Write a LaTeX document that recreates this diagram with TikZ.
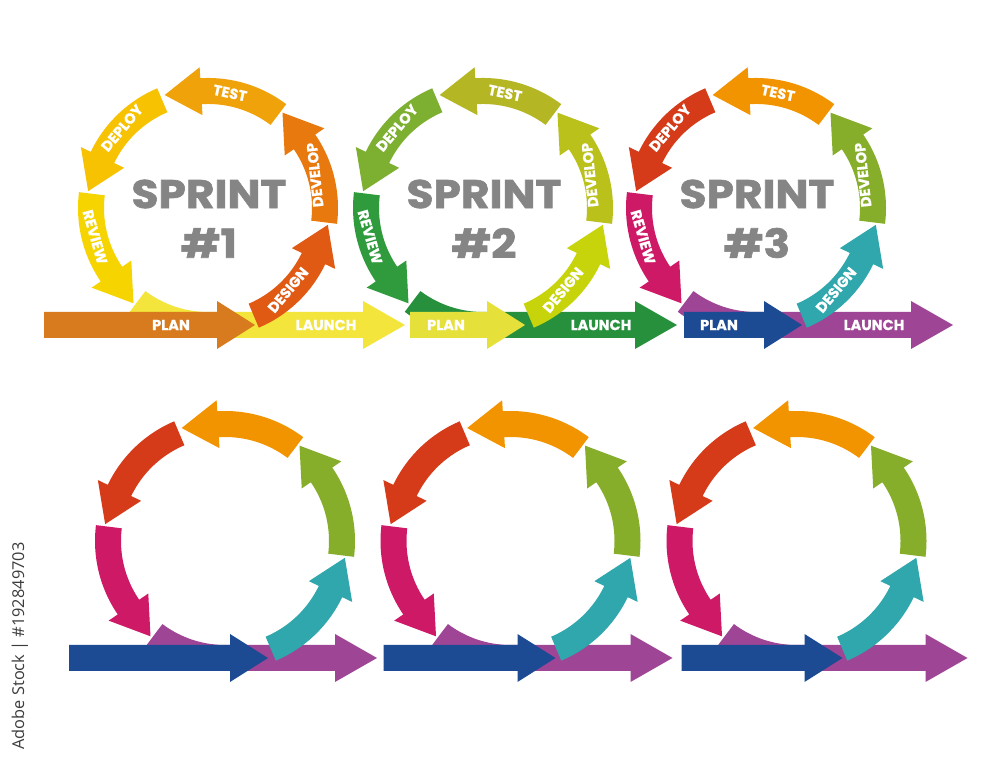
\documentclass[tikz,border=0pt]{standalone}
\usepackage{fontspec}
\newfontfamily\poplbl{Poppins}[BoldFeatures={FakeBold=0.8}]
\newfontfamily\popbig{Poppins}[BoldFeatures={FakeBold=1.5,FakeStretch=1.1}]
\newfontfamily\osans{Open Sans}
\definecolor{sgray}{HTML}{858585}
\definecolor{wmgray}{HTML}{3C3C3C}
\tikzset{
  lbl/.style={text=white, font=\poplbl\bfseries\fontsize{8.3}{9}\selectfont, inner sep=0pt},
  big/.style={text=sgray, font=\popbig\bfseries\fontsize{22.7}{26}\selectfont, inner sep=0pt}
}
% arc arrow on ring (inner r 104, outer r 130), from angle #1 to tip angle #2
\newcommand{\ringarr}[3]{%
  \pgfmathsetmacro\hb{#2-17.6}%
  \fill[#3] plot[domain=#1:\hb,samples=30] ({130*cos(\x)},{130*sin(\x)})
    -- (\hb:141) -- (#2:121) -- (\hb:93)
    -- plot[domain=\hb:#1,samples=30] ({104*cos(\x)},{104*sin(\x)}) -- cycle;}
% launch arrow: bottom arc then straight to tip x = #1
\newcommand{\launcharr}[2]{%
  \pgfmathsetmacro\lb{#1-42}%
  \fill[#2] plot[domain=233:270,samples=20] ({130*cos(\x)},{130*sin(\x)})
    -- (\lb,-130) -- (\lb,-141) -- (#1,-117) -- (\lb,-93) -- (\lb,-104) -- (0,-104)
    -- plot[domain=270:233,samples=20] ({104*cos(\x)},{104*sin(\x)}) -- cycle;}
% plan arrow: straight from tail #1 to tip #2
\newcommand{\planarr}[3]{%
  \pgfmathsetmacro\pb{#2-38}%
  \fill[#3] (#1,-130) -- (\pb,-130) -- (\pb,-141) -- (#2,-117) -- (\pb,-93) -- (\pb,-104) -- (#1,-104) -- cycle;}
\newcommand{\sprintshape}[5]{%
  \begin{scope}[shift={(#1,#2)}]
    \launcharr{#5}{cL}
    \ringarr{173}{232}{cR}
    \ringarr{113}{172}{cDp}
    \ringarr{53}{111}{cT}
    \ringarr{353}{412}{cDv}
    \planarr{#3}{#4}{cP}
    \ringarr{293}{352}{cDs}
  \end{scope}}
\newcommand{\sprintlabels}[4]{%
  \begin{scope}[shift={(#2,#3)}]
    \node[lbl,rotate=-12] (#1test) at (22,115) {TEST};
    \node[lbl,rotate=50] (#1deploy) at (-86,80) {DEPLOY};
    \node[lbl,rotate=-74] (#1review) at (-113,-29) {REVIEW};
    \node[lbl,rotate=96] (#1develop) at (107,33) {DEVELOP};
    \node[lbl,rotate=50] (#1design) at (80,-82) {DESIGN};
    \node[lbl] (#1plan) at (-37,-117) {PLAN};
    \node[lbl] (#1launch) at (118,-117) {LAUNCH};
    \node[big] (#1sprint) at (1,14) {SPRINT};
    \node[big] (#1num) at (1,-35) {#4};
  \end{scope}}
\newcommand{\colsthree}{%
  \definecolor{cP}{HTML}{1C4A93}\definecolor{cDs}{HTML}{2FA7AC}
  \definecolor{cDv}{HTML}{86AE2B}\definecolor{cT}{HTML}{F29400}
  \definecolor{cDp}{HTML}{D53A19}\definecolor{cR}{HTML}{CE1967}
  \definecolor{cL}{HTML}{9E4596}}
\begin{document}
\begin{tikzpicture}[x=0.02cm,y=0.02cm]
\fill[white] (0,0) rectangle (1000,776);
\useasboundingbox (0,0) rectangle (1000,776);
% Sprint 1
\definecolor{cP}{HTML}{D87A1E}\definecolor{cDs}{HTML}{E05A14}
\definecolor{cDv}{HTML}{E8790E}\definecolor{cT}{HTML}{F0A20B}
\definecolor{cDp}{HTML}{F6C202}\definecolor{cR}{HTML}{F6D400}
\definecolor{cL}{HTML}{F3E53C}
\sprintshape{208}{568}{-164}{47}{197}
% Sprint 2
\definecolor{cP}{HTML}{E6E03B}\definecolor{cDs}{HTML}{C8D40B}
\definecolor{cDv}{HTML}{BAC11B}\definecolor{cT}{HTML}{B4B623}
\definecolor{cDp}{HTML}{7DAF31}\definecolor{cR}{HTML}{2F9B3D}
\definecolor{cL}{HTML}{27903D}
\sprintshape{483}{568}{-73}{42}{194}
% Sprint 3
\colsthree
\sprintshape{756}{568}{-72}{46}{197}
\sprintlabels{sa}{208}{568}{\#1}
\sprintlabels{sb}{483}{568}{\#2}
\sprintlabels{sc}{756}{568}{\#3}
% bottom row
\sprintshape{225}{235}{-156}{43}{152}
\sprintshape{510.5}{235}{-127}{45}{162}
\sprintshape{796.5}{235}{-115}{46}{171}
% vertical stock id
\node[rotate=90, text=wmgray, font=\osans\fontsize{9.3}{10}\selectfont, inner sep=0pt] (stockid) at (20,130) {Adobe Stock | \#192849703};
\end{tikzpicture}
\end{document}
